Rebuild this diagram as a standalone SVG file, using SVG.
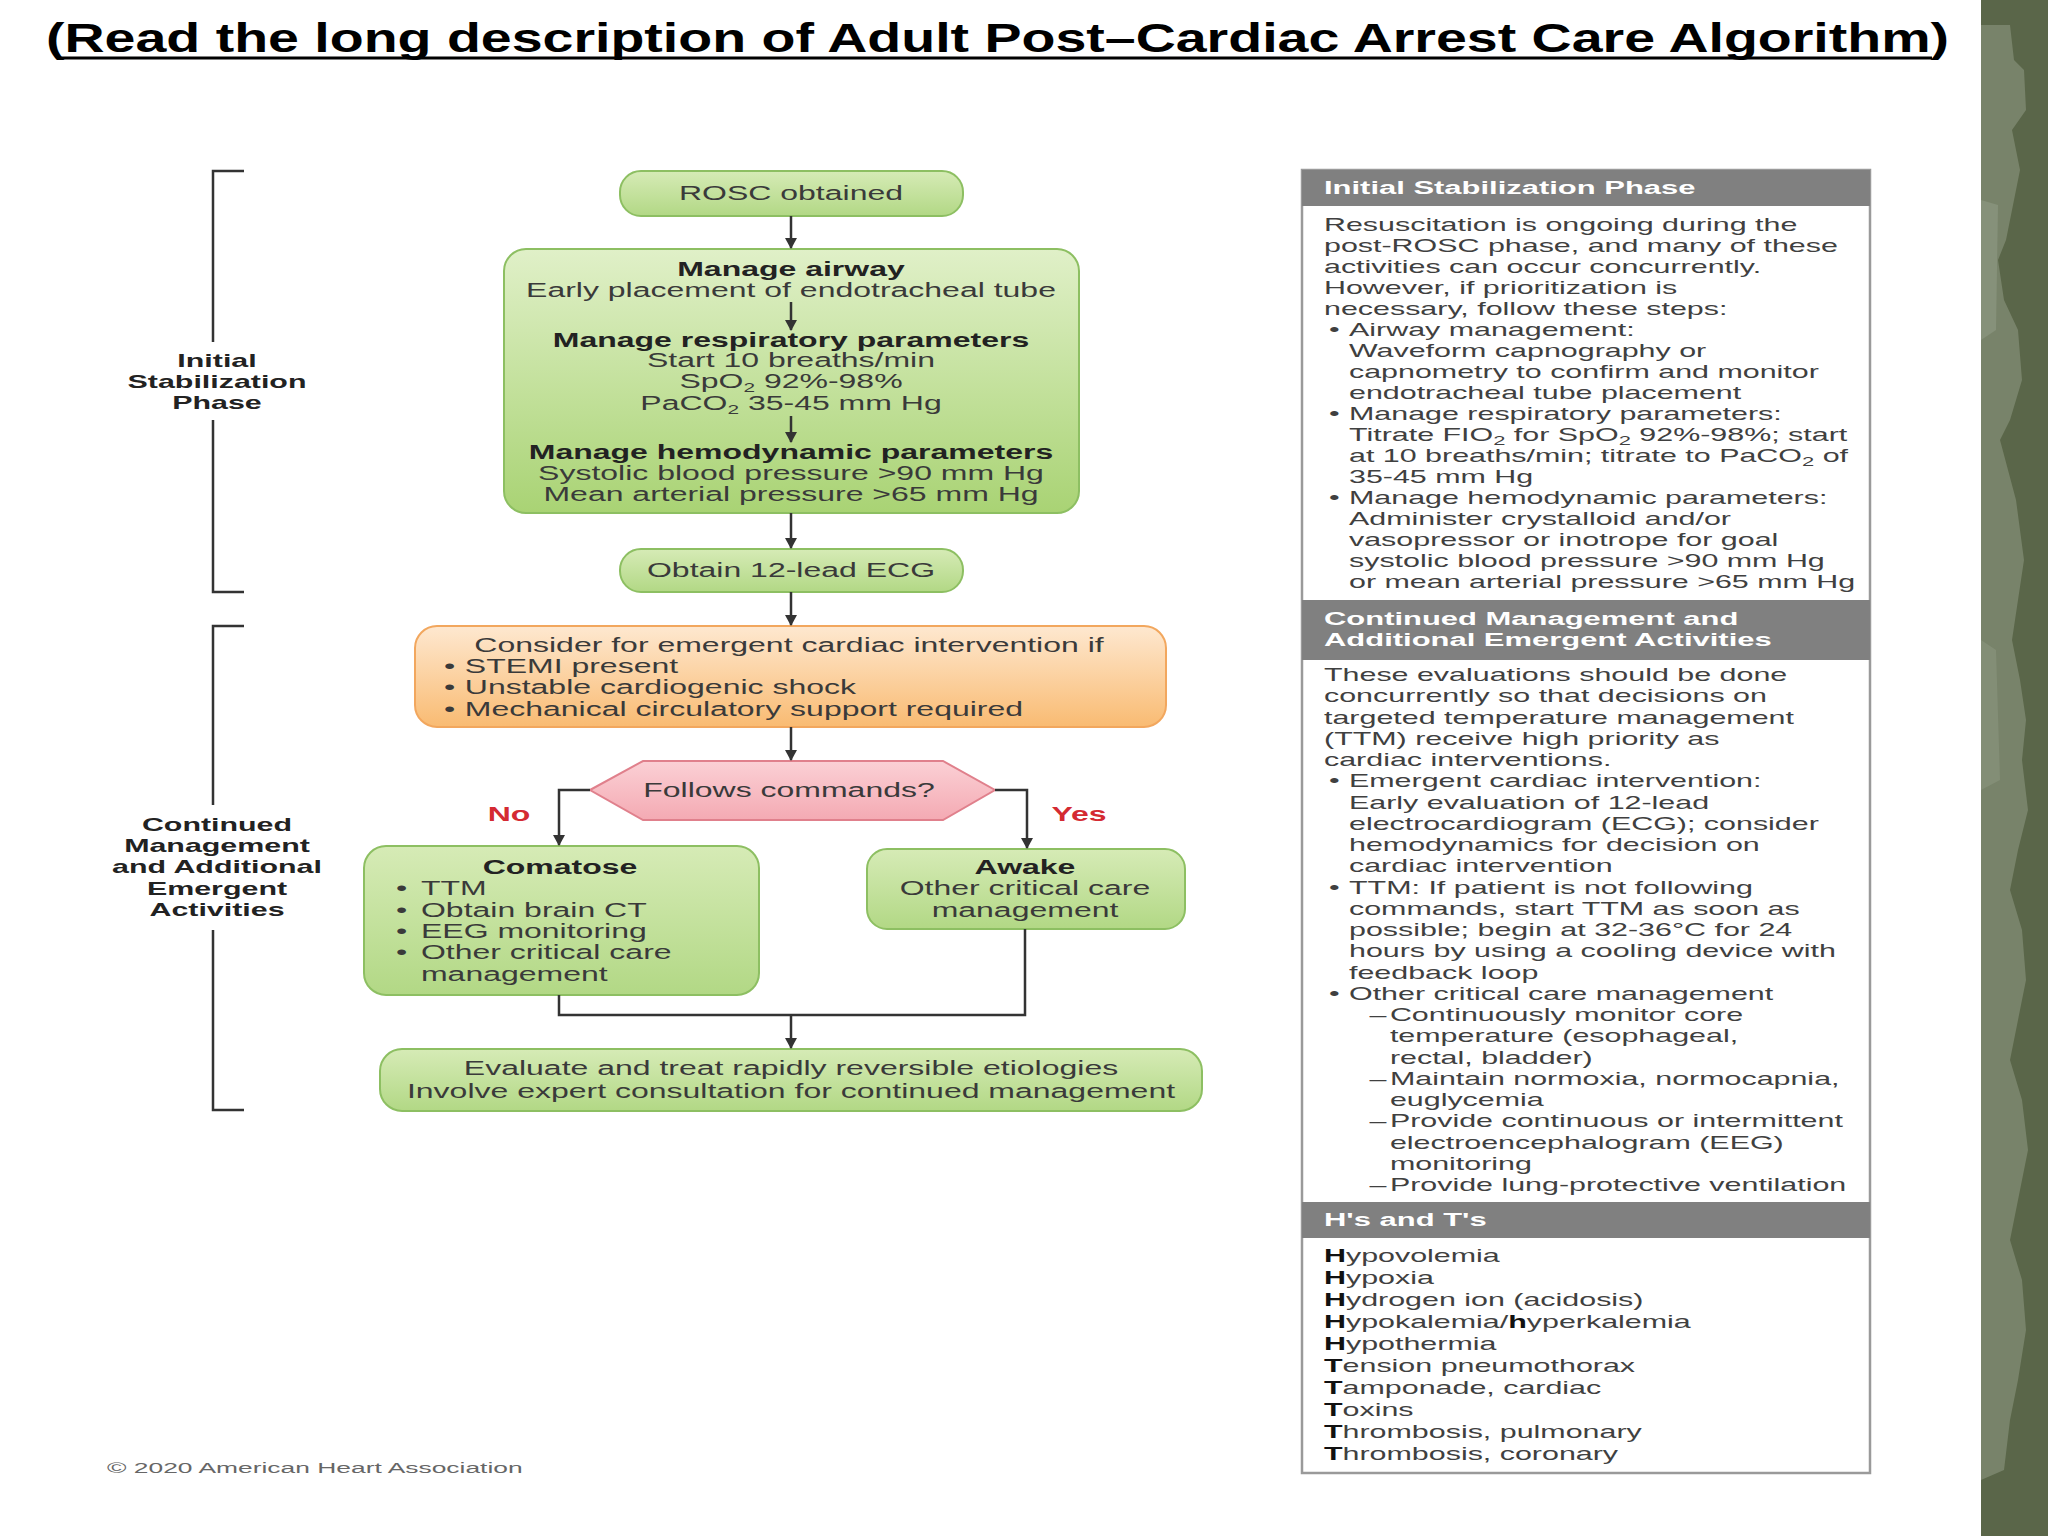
<svg xmlns="http://www.w3.org/2000/svg" width="2048" height="1536" viewBox="0 0 2048 1536">
<defs>
<linearGradient id="gGreen" x1="0" y1="0" x2="0" y2="1"><stop offset="0" stop-color="#e0f0c8"/><stop offset="1" stop-color="#a9d374"/></linearGradient>
<linearGradient id="gGreenS" x1="0" y1="0" x2="0" y2="1"><stop offset="0" stop-color="#d6ebb6"/><stop offset="1" stop-color="#b2d885"/></linearGradient>
<linearGradient id="gOrange" x1="0" y1="0" x2="0" y2="1"><stop offset="0" stop-color="#fee8d0"/><stop offset="1" stop-color="#f9bb72"/></linearGradient>
<linearGradient id="gPink" x1="0" y1="0" x2="0" y2="1"><stop offset="0" stop-color="#fbd0d5"/><stop offset="1" stop-color="#f4aab3"/></linearGradient>
<marker id="arr" markerWidth="12" markerHeight="12" refX="10" refY="6" orient="auto" markerUnits="userSpaceOnUse"><path d="M0,0 L11,6 L0,12 Z" fill="#333"/></marker>
<style>
.ft{font-family:"Liberation Sans",Arial,sans-serif;font-size:20px;fill:#3a3a3a}
.fb{font-family:"Liberation Sans",Arial,sans-serif;font-size:20px;font-weight:bold;fill:#222}
.lb{font-family:"Liberation Sans",Arial,sans-serif;font-size:19px;font-weight:bold;fill:#222;text-anchor:middle}
.rt{font-family:"Liberation Sans",Arial,sans-serif;font-size:18px;fill:#404040}
.rh{font-family:"Liberation Sans",Arial,sans-serif;font-size:18px;font-weight:bold;fill:#ffffff}
.rb{font-weight:bold;fill:#111}
.mid{text-anchor:middle}
.sub{font-size:13px}
.conn{fill:none;stroke:#333;stroke-width:2.5}
.brk{fill:none;stroke:#333;stroke-width:2.5}
.gbox{fill:url(#gGreenS);stroke:#8dbf62;stroke-width:2}
.bbox{fill:url(#gGreen);stroke:#8dbf62;stroke-width:2}
.hdr{fill:#808080}
.red{font-family:"Liberation Sans",Arial,sans-serif;font-size:20px;font-weight:bold;fill:#d42a32;text-anchor:middle}
</style>
</defs>
<rect x="0" y="0" width="2048" height="1536" fill="#ffffff"/>

<!-- right decorative stripe -->
<g id="stripe">
<rect x="1981" y="0" width="67" height="1536" fill="#5a6649"/>
<path d="M1981,25 L2010,25 L2014,60 L2024,70 L2026,110 L2012,130 L2020,170 L2014,200 L2006,240 L1998,260 L2004,300 L2018,330 L2022,380 L2010,420 L2000,440 L2008,470 L2016,500 L2024,560 L2018,600 L2012,640 L2020,680 L2026,720 L2022,760 L2028,810 L2018,850 L2010,890 L2022,930 L2026,980 L2018,1020 L2010,1060 L2022,1100 L2028,1150 L2018,1200 L2010,1240 L2022,1280 L2026,1330 L2018,1380 L2010,1420 L2004,1470 L1981,1480 Z" fill="#78836a"/>
<path d="M1981,200 L1998,205 L1996,330 L1981,340 Z" fill="#86917a"/>
<path d="M1981,640 L1996,650 L2000,780 L1981,790 Z" fill="#838e76"/>
</g>

<!-- title -->
<g id="title">
<text x="46" y="52" font-family="'Liberation Sans',Arial,sans-serif" font-size="40" font-weight="bold" fill="#000" textLength="1903" lengthAdjust="spacingAndGlyphs">(Read the long description of Adult Post–Cardiac Arrest Care Algorithm)</text>
<line x1="60" y1="58" x2="1932" y2="58" stroke="#000" stroke-width="3"/>
</g>

<!-- phase brackets -->
<g id="bracket-initial">
<path class="brk" d="M244,171 L213,171 L213,342 M213,420 L213,592 L244,592"/>
<g transform="translate(217,0) scale(1.6,1)">
<text class="lb" x="0" y="367">Initial</text>
<text class="lb" x="0" y="388">Stabilization</text>
<text class="lb" x="0" y="409">Phase</text>
</g>
</g>
<g id="bracket-continued">
<path class="brk" d="M244,626 L213,626 L213,805 M213,930 L213,1110 L244,1110"/>
<g transform="translate(217,0) scale(1.6,1)">
<text class="lb" x="0" y="831">Continued</text>
<text class="lb" x="0" y="852">Management</text>
<text class="lb" x="0" y="873">and Additional</text>
<text class="lb" x="0" y="895">Emergent</text>
<text class="lb" x="0" y="916">Activities</text>
</g>
</g>

<!-- nodes -->
<g id="node-rosc">
<rect class="gbox" x="620" y="171" width="343" height="45" rx="21"/>
<g transform="translate(791,0) scale(1.6,1)"><text class="ft mid" x="0" y="200">ROSC obtained</text></g>
</g>

<g id="node-stabilize">
<rect class="bbox" x="504" y="249" width="575" height="264" rx="22"/>
<g transform="translate(791,0) scale(1.6,1)">
<text class="fb mid" x="0" y="276">Manage airway</text>
<text class="ft mid" x="0" y="297">Early placement of endotracheal tube</text>
<text class="fb mid" x="0" y="347">Manage respiratory parameters</text>
<text class="ft mid" x="0" y="367">Start 10 breaths/min</text>
<text class="ft mid" x="0" y="388">SpO<tspan class="sub" dy="4">2</tspan><tspan dy="-4"> 92%-98%</tspan></text>
<text class="ft mid" x="0" y="410">PaCO<tspan class="sub" dy="4">2</tspan><tspan dy="-4"> 35-45 mm Hg</tspan></text>
<text class="fb mid" x="0" y="459">Manage hemodynamic parameters</text>
<text class="ft mid" x="0" y="480">Systolic blood pressure &gt;90 mm Hg</text>
<text class="ft mid" x="0" y="501">Mean arterial pressure &gt;65 mm Hg</text>
</g>
</g>

<g id="node-ecg">
<rect class="gbox" x="620" y="549" width="343" height="43" rx="21"/>
<g transform="translate(791,0) scale(1.6,1)"><text class="ft mid" x="0" y="577">Obtain 12-lead ECG</text></g>
</g>

<g id="node-intervention">
<rect x="415" y="626" width="751" height="101" rx="22" fill="url(#gOrange)" stroke="#f2a75e" stroke-width="2"/>
<g transform="translate(789,0) scale(1.6,1)"><text class="ft mid" x="0" y="652">Consider for emergent cardiac intervention if</text></g>
<g transform="translate(444,0) scale(1.6,1)">
<text class="ft" x="0" y="673">•</text><text class="ft" x="13" y="673">STEMI present</text>
<text class="ft" x="0" y="694">•</text><text class="ft" x="13" y="694">Unstable cardiogenic shock</text>
<text class="ft" x="0" y="716">•</text><text class="ft" x="13" y="716">Mechanical circulatory support required</text>
</g>
</g>

<g id="node-decision">
<polygon points="590,790 643,761 943,761 995,790 943,820 643,820" fill="url(#gPink)" stroke="#e0808c" stroke-width="2"/>
<g transform="translate(789,0) scale(1.6,1)"><text class="ft mid" x="0" y="797">Follows commands?</text></g>
</g>

<g id="node-comatose">
<rect class="gbox" x="364" y="846" width="395" height="149" rx="22"/>
<g transform="translate(560,0) scale(1.6,1)"><text class="fb mid" x="0" y="874">Comatose</text></g>
<g transform="translate(396,0) scale(1.6,1)">
<text class="ft" x="0" y="895">•</text><text class="ft" x="15.6" y="895">TTM</text>
<text class="ft" x="0" y="917">•</text><text class="ft" x="15.6" y="917">Obtain brain CT</text>
<text class="ft" x="0" y="938">•</text><text class="ft" x="15.6" y="938">EEG monitoring</text>
<text class="ft" x="0" y="959">•</text><text class="ft" x="15.6" y="959">Other critical care</text>
<text class="ft" x="15.6" y="981">management</text>
</g>
</g>

<g id="node-awake">
<rect class="gbox" x="867" y="849" width="318" height="80" rx="20"/>
<g transform="translate(1025,0) scale(1.6,1)">
<text class="fb mid" x="0" y="874">Awake</text>
<text class="ft mid" x="0" y="895">Other critical care</text>
<text class="ft mid" x="0" y="917">management</text>
</g>
</g>

<g id="node-evaluate">
<rect class="gbox" x="380" y="1049" width="822" height="62" rx="22"/>
<g transform="translate(791,0) scale(1.6,1)">
<text class="ft mid" x="0" y="1075">Evaluate and treat rapidly reversible etiologies</text>
<text class="ft mid" x="0" y="1098">Involve expert consultation for continued management</text>
</g>
</g>

<!-- connectors -->
<g id="connectors">
<line class="conn" x1="791" y1="216" x2="791" y2="248" marker-end="url(#arr)"/>
<line class="conn" x1="791" y1="302" x2="791" y2="330" marker-end="url(#arr)"/>
<line class="conn" x1="791" y1="416" x2="791" y2="442" marker-end="url(#arr)"/>
<line class="conn" x1="791" y1="513" x2="791" y2="548" marker-end="url(#arr)"/>
<line class="conn" x1="791" y1="592" x2="791" y2="625" marker-end="url(#arr)"/>
<line class="conn" x1="791" y1="727" x2="791" y2="760" marker-end="url(#arr)"/>
<path class="conn" d="M590,790 L559,790 L559,845" marker-end="url(#arr)"/>
<path class="conn" d="M995,790 L1027,790 L1027,848" marker-end="url(#arr)"/>
<path class="conn" d="M559,995 L559,1015 L1025,1015 L1025,929"/>
<line class="conn" x1="791" y1="1015" x2="791" y2="1048" marker-end="url(#arr)"/>
<g transform="translate(509,0) scale(1.6,1)"><text class="red" x="0" y="821">No</text></g>
<g transform="translate(1079,0) scale(1.6,1)"><text class="red" x="0" y="821">Yes</text></g>
</g>

<g id="copyright">
<g transform="translate(107,0) scale(1.76,1)"><text x="0" y="1473" font-family="'Liberation Sans',Arial,sans-serif" font-size="15" fill="#666">© 2020 American Heart Association</text></g>
</g>

<!-- right info panel -->
<g id="panel">
<rect x="1302" y="170" width="568" height="1303" fill="#ffffff" stroke="#9a9a9a" stroke-width="2.5"/>
<rect class="hdr" x="1302" y="170" width="568" height="36"/>
<rect class="hdr" x="1302" y="600" width="568" height="60"/>
<rect class="hdr" x="1302" y="1202" width="568" height="36"/>
<g transform="translate(1324,0) scale(1.72,1)">
<text class="rh" x="0" y="194">Initial Stabilization Phase</text>
<text class="rh" x="0" y="625">Continued Management and</text>
<text class="rh" x="0" y="646">Additional Emergent Activities</text>
<text class="rh" x="0" y="1226">H's and T's</text>
</g>
<g transform="translate(1324,0) scale(1.69,1)">
<text class="rt" x="0" y="231">Resuscitation is ongoing during the</text>
<text class="rt" x="0" y="252">post-ROSC phase, and many of these</text>
<text class="rt" x="0" y="273">activities can occur concurrently.</text>
<text class="rt" x="0" y="294">However, if prioritization is</text>
<text class="rt" x="0" y="315">necessary, follow these steps:</text>
<text class="rt" x="3" y="336">•</text><text class="rt" x="14.8" y="336">Airway management:</text>
<text class="rt" x="14.8" y="357">Waveform capnography or</text>
<text class="rt" x="14.8" y="378">capnometry to confirm and monitor</text>
<text class="rt" x="14.8" y="399">endotracheal tube placement</text>
<text class="rt" x="3" y="420">•</text><text class="rt" x="14.8" y="420">Manage respiratory parameters:</text>
<text class="rt" x="14.8" y="441">Titrate FIO<tspan class="sub" dy="4">2</tspan><tspan dy="-4"> for SpO</tspan><tspan class="sub" dy="4">2</tspan><tspan dy="-4"> 92%-98%; start</tspan></text>
<text class="rt" x="14.8" y="462">at 10 breaths/min; titrate to PaCO<tspan class="sub" dy="4">2</tspan><tspan dy="-4"> of</tspan></text>
<text class="rt" x="14.8" y="483">35-45 mm Hg</text>
<text class="rt" x="3" y="504">•</text><text class="rt" x="14.8" y="504">Manage hemodynamic parameters:</text>
<text class="rt" x="14.8" y="525">Administer crystalloid and/or</text>
<text class="rt" x="14.8" y="546">vasopressor or inotrope for goal</text>
<text class="rt" x="14.8" y="567">systolic blood pressure &gt;90 mm Hg</text>
<text class="rt" x="14.8" y="588">or mean arterial pressure &gt;65 mm Hg</text>

<text class="rt" x="0" y="681">These evaluations should be done</text>
<text class="rt" x="0" y="702">concurrently so that decisions on</text>
<text class="rt" x="0" y="724">targeted temperature management</text>
<text class="rt" x="0" y="745">(TTM) receive high priority as</text>
<text class="rt" x="0" y="766">cardiac interventions.</text>
<text class="rt" x="3" y="787">•</text><text class="rt" x="14.8" y="787">Emergent cardiac intervention:</text>
<text class="rt" x="14.8" y="809">Early evaluation of 12-lead</text>
<text class="rt" x="14.8" y="830">electrocardiogram (ECG); consider</text>
<text class="rt" x="14.8" y="851">hemodynamics for decision on</text>
<text class="rt" x="14.8" y="872">cardiac intervention</text>
<text class="rt" x="3" y="894">•</text><text class="rt" x="14.8" y="894">TTM: If patient is not following</text>
<text class="rt" x="14.8" y="915">commands, start TTM as soon as</text>
<text class="rt" x="14.8" y="936">possible; begin at 32-36°C for 24</text>
<text class="rt" x="14.8" y="957">hours by using a cooling device with</text>
<text class="rt" x="14.8" y="979">feedback loop</text>
<text class="rt" x="3" y="1000">•</text><text class="rt" x="14.8" y="1000">Other critical care management</text>
<text class="rt" x="27" y="1021">–</text><text class="rt" x="39" y="1021">Continuously monitor core</text>
<text class="rt" x="39" y="1042">temperature (esophageal,</text>
<text class="rt" x="39" y="1064">rectal, bladder)</text>
<text class="rt" x="27" y="1085">–</text><text class="rt" x="39" y="1085">Maintain normoxia, normocapnia,</text>
<text class="rt" x="39" y="1106">euglycemia</text>
<text class="rt" x="27" y="1127">–</text><text class="rt" x="39" y="1127">Provide continuous or intermittent</text>
<text class="rt" x="39" y="1149">electroencephalogram (EEG)</text>
<text class="rt" x="39" y="1170">monitoring</text>
<text class="rt" x="27" y="1191">–</text><text class="rt" x="39" y="1191">Provide lung-protective ventilation</text>

<text class="rt" x="0" y="1262"><tspan class="rb">H</tspan>ypovolemia</text>
<text class="rt" x="0" y="1284"><tspan class="rb">H</tspan>ypoxia</text>
<text class="rt" x="0" y="1306"><tspan class="rb">H</tspan>ydrogen ion (acidosis)</text>
<text class="rt" x="0" y="1328"><tspan class="rb">H</tspan>ypokalemia/<tspan class="rb">h</tspan>yperkalemia</text>
<text class="rt" x="0" y="1350"><tspan class="rb">H</tspan>ypothermia</text>
<text class="rt" x="0" y="1372"><tspan class="rb">T</tspan>ension pneumothorax</text>
<text class="rt" x="0" y="1394"><tspan class="rb">T</tspan>amponade, cardiac</text>
<text class="rt" x="0" y="1416"><tspan class="rb">T</tspan>oxins</text>
<text class="rt" x="0" y="1438"><tspan class="rb">T</tspan>hrombosis, pulmonary</text>
<text class="rt" x="0" y="1460"><tspan class="rb">T</tspan>hrombosis, coronary</text>
</g>
</g>
</svg>
